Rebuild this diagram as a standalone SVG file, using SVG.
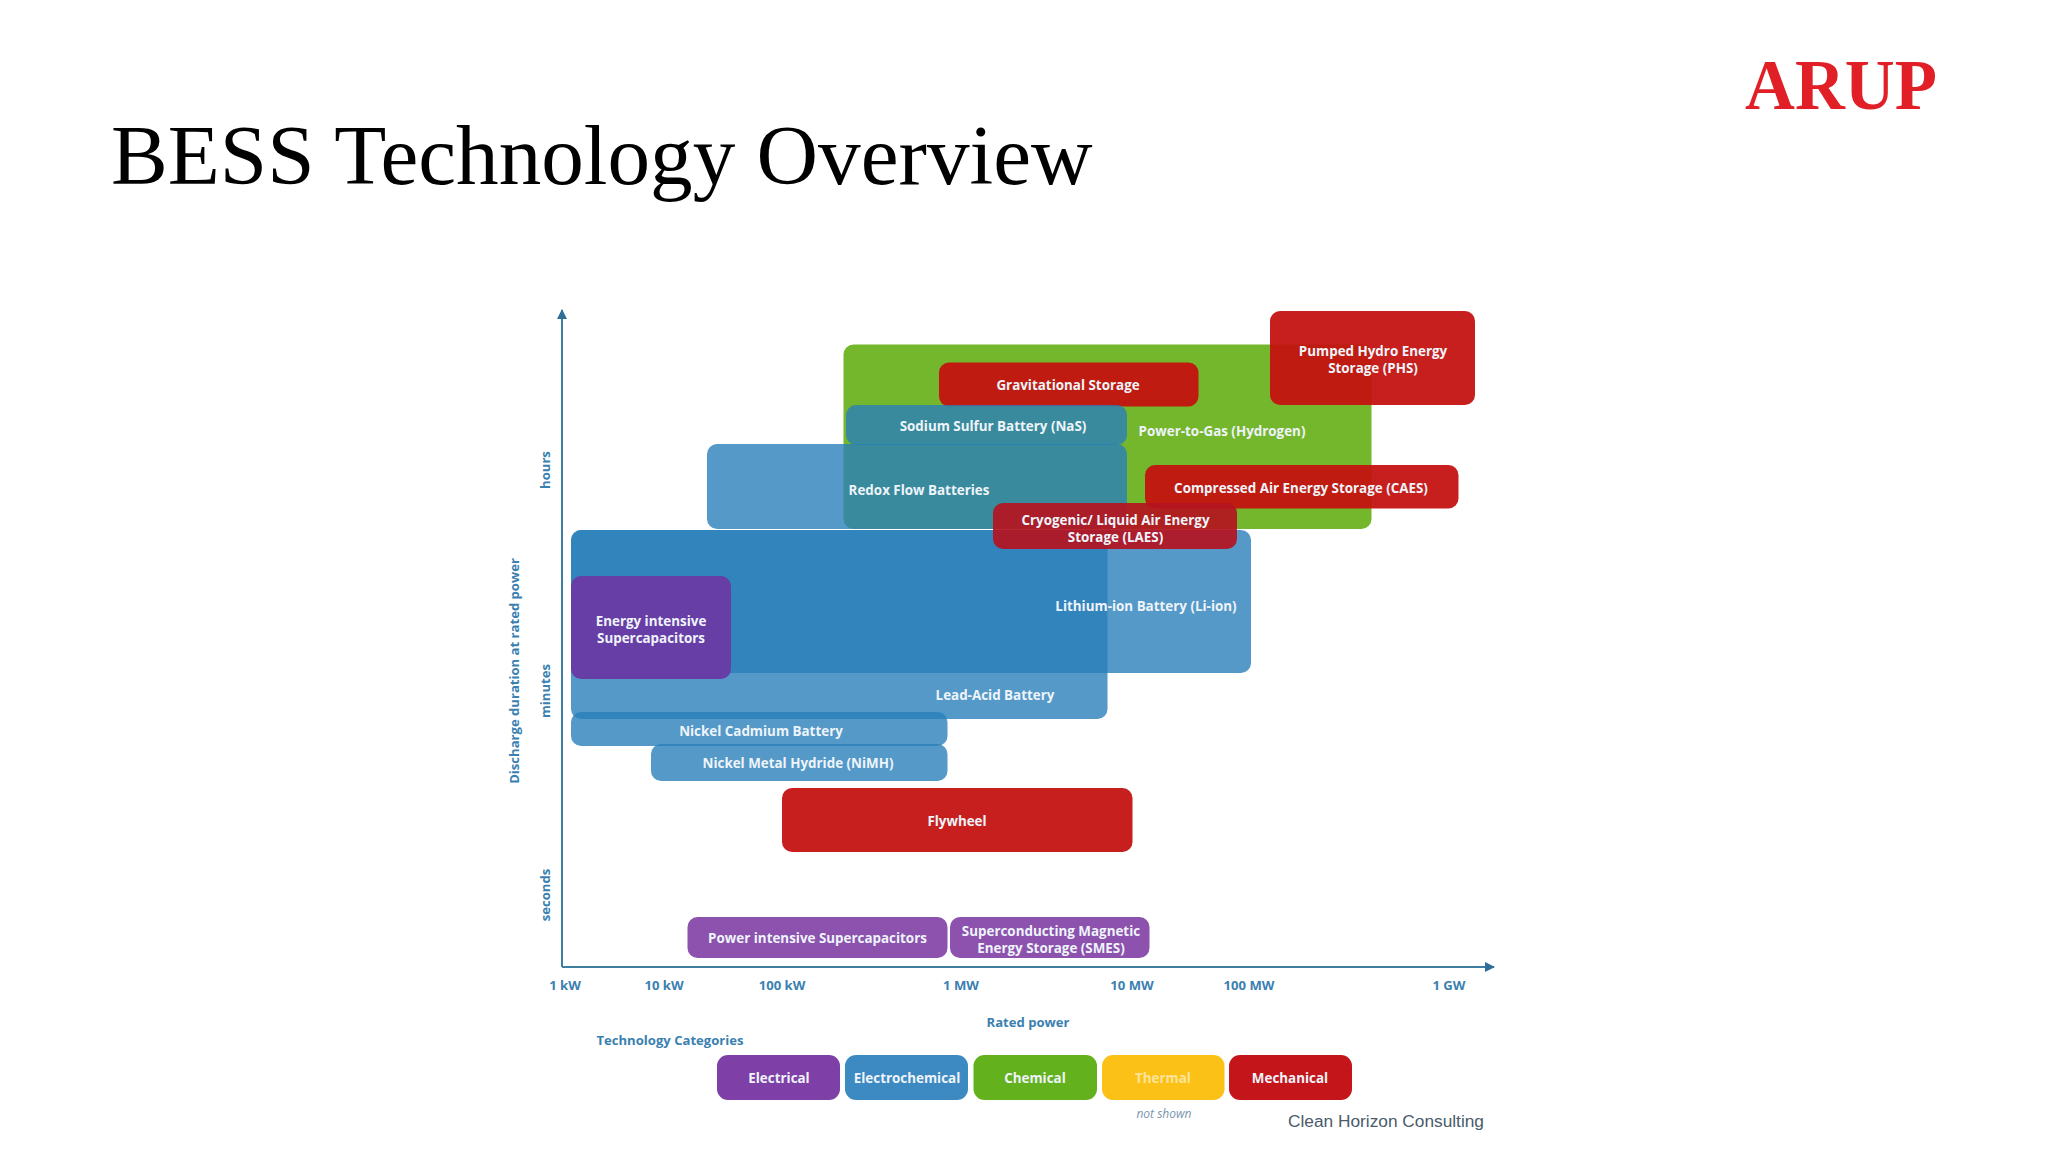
<svg xmlns="http://www.w3.org/2000/svg" width="2048" height="1152" viewBox="0 0 2048 1152">
<style>
text{font-family:"Open Sans","Liberation Sans",sans-serif;font-weight:700;font-size:13.400px;fill:#eef4fa;text-anchor:middle}
.title{font-family:"Liberation Serif",serif;font-weight:400;font-size:85.200px;fill:#000;text-anchor:start}
.logo{font-family:"Liberation Serif",serif;font-weight:700;font-size:71px;fill:#e01f26;text-anchor:start}
.ax{fill:#3a80b0;font-size:13.100px}
.note{font-weight:400;font-style:italic;font-size:12px;fill:#7a96ac}
.src{font-family:"Liberation Sans",sans-serif;font-weight:400;font-size:17.300px;fill:#4a5b6b}
.b{fill:#2980b9;fill-opacity:.8}
.g{fill:#74b62c}
.r{fill:#c4110f;fill-opacity:.94}
.p{fill:#8c52ae}
.y{fill:#fcc116}
</style>
<defs>
<marker id="arrow" markerUnits="userSpaceOnUse" markerWidth="12" markerHeight="12" refX="9" refY="5" orient="auto"><path d="M0 0L10 5L0 10Z" fill="#2f6f97"/></marker>
</defs>
<rect width="2048" height="1152" fill="#fff"/>
<text class="title" x="111" y="184">BESS Technology Overview</text>
<text class="logo" x="1745" y="108.500" textLength="192" lengthAdjust="spacingAndGlyphs">ARUP</text>

<g id="power-to-gas"><rect class="g" x="843.500" y="344.500" width="528" height="184.500" rx="10"/><text x="1222" y="436">Power-to-Gas (Hydrogen)</text></g>
<g id="gravitational"><rect class="r" x="939" y="362.500" width="259.500" height="44" rx="10"/><text x="1068" y="390">Gravitational Storage</text></g>
<g id="nas"><rect class="b" x="846" y="405" width="281" height="40" rx="10"/><text x="993" y="431">Sodium Sulfur Battery (NaS)</text></g>
<g id="redox"><rect class="b" x="707" y="444" width="420" height="85" rx="10"/><text x="919" y="495">Redox Flow Batteries</text></g>
<g id="li-ion"><rect class="b" x="571" y="530" width="680" height="143" rx="10"/></g>
<g id="lead-acid"><rect class="b" x="571" y="530" width="536.500" height="189" rx="10"/><text x="995" y="700">Lead-Acid Battery</text></g>
<text x="1146" y="611">Lithium-ion Battery (Li-ion)</text>
<g id="nicd"><rect class="b" x="571" y="712" width="376.500" height="34" rx="10"/><text x="761" y="735.500">Nickel Cadmium Battery</text></g>
<g id="nimh"><rect class="b" x="651" y="744" width="296.500" height="37" rx="10"/><text x="798" y="768">Nickel Metal Hydride (NiMH)</text></g>
<g id="energy-sc"><rect fill="#673ea6" x="571" y="576" width="160" height="103" rx="10"/><text x="651" y="626">Energy intensive</text><text x="651" y="643">Supercapacitors</text></g>
<g id="phs"><rect class="r" x="1270" y="311" width="205" height="94" rx="10"/><text x="1373" y="356">Pumped Hydro Energy</text><text x="1373" y="373">Storage (PHS)</text></g>
<g id="caes"><rect class="r" x="1145" y="465" width="313.500" height="43.500" rx="10"/><text x="1301" y="493">Compressed Air Energy Storage (CAES)</text></g>
<g id="laes"><rect fill="#b4141f" fill-opacity=".92" x="993" y="503" width="244" height="46" rx="10"/><text x="1115.500" y="525">Cryogenic/ Liquid Air Energy</text><text x="1115.500" y="542">Storage (LAES)</text></g>
<g id="flywheel"><rect class="r" x="782" y="788" width="350.500" height="64" rx="10"/><text x="957" y="825.500">Flywheel</text></g>
<g id="power-sc"><rect class="p" x="687.500" y="917" width="260" height="41" rx="10"/><text x="817.500" y="943">Power intensive Supercapacitors</text></g>
<g id="smes"><rect class="p" x="950" y="917" width="199.500" height="41" rx="10"/><text x="1051" y="936">Superconducting Magnetic</text><text x="1051" y="953">Energy Storage (SMES)</text></g>

<g id="connectors" fill="none" stroke="#3f7ea3" stroke-width="2">
<line x1="562" y1="967" x2="562" y2="310" marker-end="url(#arrow)"/>
<line x1="562" y1="967" x2="1494" y2="967" marker-end="url(#arrow)"/>
</g>

<g id="axis-labels">
<text class="ax" transform="translate(519 671) rotate(-90)">Discharge duration at rated power</text>
<text class="ax" transform="translate(550 470) rotate(-90)">hours</text>
<text class="ax" transform="translate(550 691) rotate(-90)">minutes</text>
<text class="ax" transform="translate(550 895) rotate(-90)">seconds</text>
<text class="ax" x="565" y="990">1 kW</text>
<text class="ax" x="664" y="990">10 kW</text>
<text class="ax" x="782" y="990">100 kW</text>
<text class="ax" x="961" y="990">1 MW</text>
<text class="ax" x="1132" y="990">10 MW</text>
<text class="ax" x="1249" y="990">100 MW</text>
<text class="ax" x="1449" y="990">1 GW</text>
<text class="ax" x="1028" y="1027">Rated power</text>
<text class="ax" x="670" y="1045">Technology Categories</text>
</g>

<g id="legend-electrical"><rect fill="#7e3fa6" x="717" y="1055" width="123" height="45" rx="11"/><text x="779" y="1083">Electrical</text></g>
<g id="legend-electrochemical"><rect fill="#3d8ac3" x="845" y="1055" width="123" height="45" rx="11"/><text x="907" y="1083">Electrochemical</text></g>
<g id="legend-chemical"><rect fill="#63b11d" x="973.500" y="1055" width="123.500" height="45" rx="11"/><text x="1035" y="1083">Chemical</text></g>
<g id="legend-thermal"><rect class="y" x="1102" y="1055" width="122.500" height="45" rx="11"/><text x="1163" y="1083" style="fill:#fde49a">Thermal</text></g>
<g id="legend-mechanical"><rect fill="#c4161a" x="1229" y="1055" width="123" height="45" rx="11"/><text x="1290" y="1083">Mechanical</text></g>
<text class="note" x="1164" y="1118">not shown</text>
<text class="src" x="1386" y="1127">Clean Horizon Consulting</text>
</svg>
